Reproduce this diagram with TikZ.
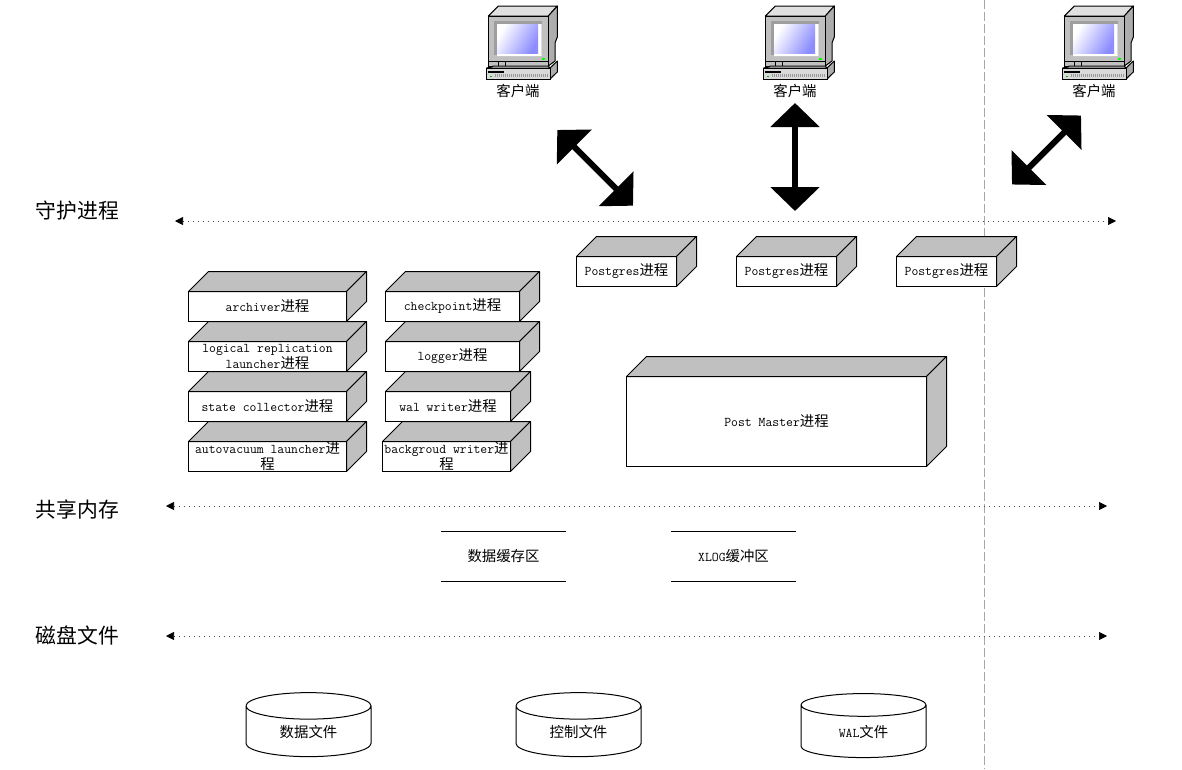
\documentclass[tikz,border=0pt]{standalone}
\usepackage{fontspec}
\newfontfamily\cjk{Noto Sans CJK SC}
\usepackage {tikz}
\usetikzlibrary {positioning}
\usetikzlibrary{shapes.geometric}
\usetikzlibrary{arrows.meta}

\definecolor{boxgray}{HTML}{C0C0C0}
\definecolor{screenblue}{HTML}{8C8CFF}
\newcommand{\zh}[1]{{\cjk\fontsize{14.4}{16}\selectfont #1}}
\newcommand{\procbox}[6]{
  \node[proc_box, minimum width = #4, minimum height = #5] (#1) at (#2,#3) {#6};
  \draw[proc_side] (#1.north west) -- ++(20,-20) -- ++(#4,0) -- (#1.north east) -- cycle;
  \draw[proc_side] (#1.north east) -- ++(20,-20) -- ++(0,#5) -- (#1.south east) -- cycle;
}

\begin{document}
\begin{tikzpicture}[x=1pt, y=-1pt,
  proc_box/.style ={ rectangle, draw, black, fill = white, anchor = north west, outer sep = 0pt,
  inner sep = 0pt, line width = 1pt, align = center, font = \ttfamily\fontsize{13.33}{16}\selectfont},
  proc_side/.style ={ draw = black, fill = boxgray, line width = 1pt, line join = round},
  layer_text/.style ={ anchor = west, inner sep = 0pt, font = \cjk\fontsize{20.8}{24}\selectfont},
  layer_line/.style ={ {Triangle[length = 8pt, width = 8pt, black]}-{Triangle[length = 8pt, width = 8pt, black]},
  line width = 0.7pt, dash pattern = on 1pt off 4pt, black!70},
  big_arrow/.style ={ {Triangle[length = 24pt, width = 48pt]}-{Triangle[length = 24pt, width = 48pt]},
  line width = 6pt, black},
  store/.style ={ rectangle, minimum width = 125pt, minimum height = 50pt, inner sep = 0pt, outer sep = 0pt,
  font = \ttfamily\fontsize{13.33}{16}\selectfont},
  store_line/.style ={ line width = 1pt, black},
  disk/.style ={ cylinder, shape border rotate = 90, draw, black, fill = white, line width = 1pt,
  aspect = 0.46, minimum width = 125pt, minimum height = 64pt, inner sep = 0pt, outer sep = 0pt,
  font = \ttfamily\fontsize{13.33}{16}\selectfont},
  client_text/.style ={ inner sep = 0pt},
  computer/.pic ={
    \draw[black, fill = black!12, line width = 1pt, line join = round] (8.3,16) -- (18.3,6) -- (77.3,6) -- (68.3,16) -- cycle;
    \draw[black, fill = black!32, line width = 1pt, line join = round] (68.3,16) -- (77.3,6) -- (77.3,37) -- (75,43) -- (75,61) -- (68.3,66) -- cycle;
    \draw[black, fill = boxgray, line width = 1pt] (8.3,16) rectangle (68.3,66);
    \fill[black!38] (14,21) rectangle (62,55);
    \fill[white] (61.5,24) -- (61.5,56) -- (17,56) -- (17,53) -- (58,53) -- (58,24) -- cycle;
    \shade[left color = white, right color = screenblue, shading angle = 60] (17,24.5) rectangle (58,53);
    \draw[black, line width = 0.7pt] (8.3,61) -- (68.3,61);
    \draw[black, line width = 0.7pt] (18,61) -- (18,66) (25,61) -- (25,66);
    \fill[green] (62,57.5) rectangle (65,60);
    \draw[black, fill = black!32, line width = 1pt, line join = round] (70,68) -- (77.3,61) -- (77.3,72) -- (70,79) -- cycle;
    \draw[black, fill = black!12, line width = 1pt, line join = round] (6.7,68) -- (14,66) -- (68.3,66) -- (70,68) -- cycle;
    \draw[black, fill = black!15, line width = 1pt] (6.7,68) rectangle (70,79);
    \fill[black] (7.5,70.5) rectangle (24,72.5);
    \draw[black!40, dash pattern = on 1pt off 1pt, line width = 3pt] (15,75.5) -- (68,75.5);
    \fill[green!70!black] (10,75.5) rectangle (12,77);
  }]
  \useasboundingbox (0,0) rectangle (1182,769);

  \draw[black!35, line width = 0.8pt, dash pattern = on 9pt off 3pt] (984,0) -- (984,769);

  \pic at (480,0) {computer};
  \pic at (757,0) {computer};
  \pic at (1056,0) {computer};
  \node[client_text] (client_a) at (518,91) {\zh{客户端}};
  \node[client_text] (client_b) at (795,91) {\zh{客户端}};
  \node[client_text] (client_c) at (1094,91) {\zh{客户端}};

  \coordinate (arrow_a_top) at (557.3,130);
  \coordinate (arrow_a_end) at (633,205.7);
  \coordinate (arrow_b_top) at (795,103);
  \coordinate (arrow_b_end) at (795,211);
  \coordinate (arrow_c_top) at (1081,115.5);
  \coordinate (arrow_c_end) at (1012,184.5);
  \draw[big_arrow] (arrow_a_top) -- (arrow_a_end);
  \draw[big_arrow] (arrow_b_top) -- (arrow_b_end);
  \draw[big_arrow] (arrow_c_top) -- (arrow_c_end);

  \node[layer_text] (daemon) at (35.5,210.5) {守护进程};
  \node[layer_text] (shmem) at (35.5,509.5) {共享内存};
  \node[layer_text] (diskfile) at (35.5,635.5) {磁盘文件};
  \coordinate (daemon_l) at (175,221);
  \coordinate (daemon_r) at (1116,221);
  \coordinate (shmem_l) at (166,506);
  \coordinate (shmem_r) at (1107,506);
  \coordinate (diskfile_l) at (166,636);
  \coordinate (diskfile_r) at (1107,636);
  \draw[layer_line] (daemon_l) -- (daemon_r);
  \draw[layer_line] (shmem_l) -- (shmem_r);
  \draw[layer_line] (diskfile_l) -- (diskfile_r);

  \procbox{archiver}{188.5}{291.5}{158}{30}{archiver\zh{进程}}
  \procbox{logical}{188.5}{341.5}{158}{30}{logical replication\\launcher\zh{进程}}
  \procbox{stats}{188.5}{391.5}{158}{30}{state collector\zh{进程}}
  \procbox{autovacuum}{188.5}{441.5}{158}{30}{autovacuum launcher\zh{进}\\\zh{程}}
  \procbox{checkpoint}{385.5}{291.5}{134}{30}{checkpoint\zh{进程}}
  \procbox{logger}{385.5}{341.5}{134}{30}{logger\zh{进程}}
  \procbox{walwriter}{385.5}{391.5}{125}{30}{wal writer\zh{进程}}
  \procbox{bgwriter}{382.5}{441.5}{128}{30}{backgroud writer\zh{进}\\\zh{程}}

  \procbox{backend_a}{576.5}{256.5}{100}{30}{Postgres\zh{进程}}
  \procbox{backend_b}{736.5}{256.5}{100}{30}{Postgres\zh{进程}}
  \procbox{backend_c}{896.5}{256.5}{100}{30}{Postgres\zh{进程}}
  \procbox{postmaster}{626.5}{376.5}{300}{90}{Post Master\zh{进程}}

  \node[store] (databuf) at (503.5,556) {\zh{数据缓存区}};
  \node[store] (xlogbuf) at (733.5,556) {XLOG\zh{缓冲区}};
  \draw[store_line] (databuf.north west) -- (databuf.north east);
  \draw[store_line] (databuf.south west) -- (databuf.south east);
  \draw[store_line] (xlogbuf.north west) -- (xlogbuf.north east);
  \draw[store_line] (xlogbuf.south west) -- (xlogbuf.south east);

  \node[disk] (datafile) at (308.5,731.5) {\zh{数据文件}};
  \node[disk] (ctrlfile) at (578.5,731.5) {\zh{控制文件}};
  \node[disk] (walfile) at (863.5,731.5) {WAL\zh{文件}};
\end{tikzpicture}
\end{document}
